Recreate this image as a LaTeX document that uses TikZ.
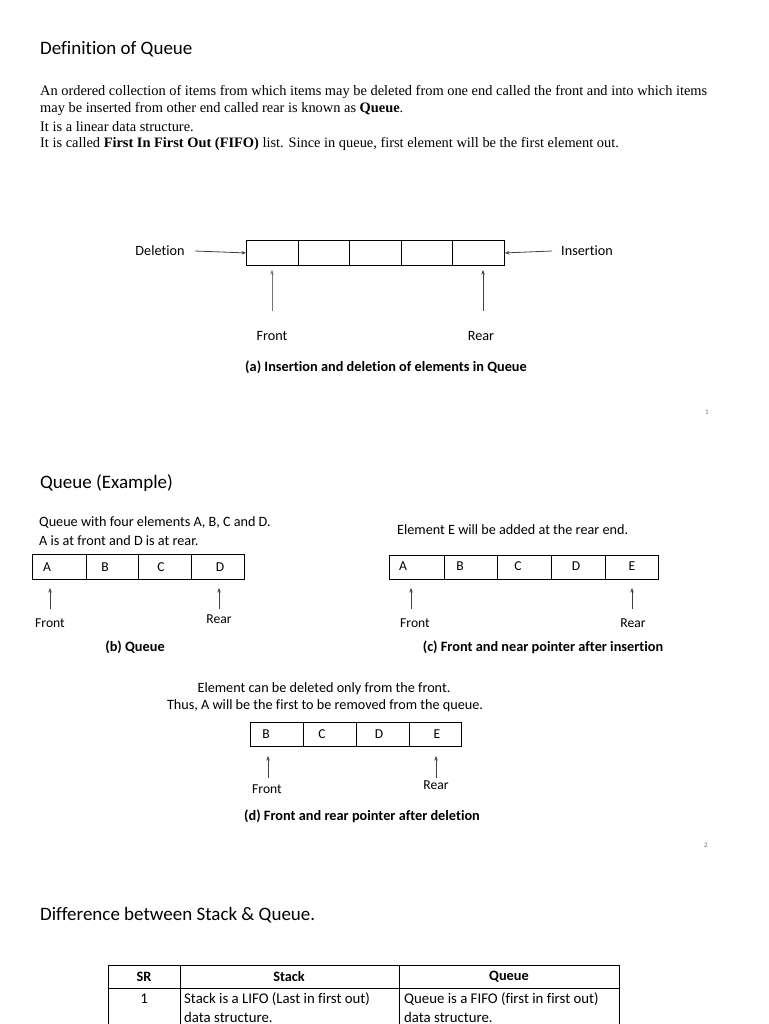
\documentclass[tikz,border=0pt]{standalone}
\usepackage{fontspec}
\setmainfont{Liberation Serif}
\newfontfamily\calfont{Carlito}[Ligatures=NoCommon]
\usetikzlibrary{arrows.meta}
\begin{document}
\begin{tikzpicture}[x=1pt,y=-1pt,
  heading/.style={anchor=west,inner sep=0pt,font=\calfont\fontsize{19}{22}\selectfont},
  body/.style={anchor=west,inner sep=0pt,font=\fontsize{14.4}{17}\selectfont},
  lbl/.style={inner sep=0pt,font=\calfont\fontsize{14.2}{17}\selectfont},
  small/.style={inner sep=0pt,font=\calfont\fontsize{13.6}{16}\selectfont},
  tbl/.style={inner sep=0pt,font=\calfont\fontsize{14.8}{17}\selectfont},
  captxt/.style={inner sep=0pt,font=\calfont\bfseries\fontsize{14.3}{17}\selectfont},
  cellbox/.style={draw,line width=0.9pt,minimum height=25pt,inner sep=0pt},
  ptr/.style={-{Stealth[length=4.5pt,width=3.5pt]},line width=0.8pt,draw=black!75},
  pnum/.style={inner sep=0pt,font=\calfont\fontsize{7}{8}\selectfont,text=black!55},
  tline/.style={line width=0.8pt}]
\useasboundingbox (0,0) rectangle (768,1024);
\clip (0,0) rectangle (768,1024);
\fill[white] (0,0) rectangle (768,1024);

% ---------- Definition ----------
\node[heading] (h1) at (40,49.5) {Definition of Queue};
\node[body] (p1) at (40,92) {An ordered collection of items from which items may be deleted from one end called the front and into which items};
\node[body] (p2) at (40,109) {may be inserted from other end called rear is known as \textbf{Queue}.};
\node[body] (p3) at (40,127) {It is a linear data structure.};
\node[body] (p4) at (40,144) {It is called \textbf{First In First Out (FIFO)} list. Since in queue, first element will be the first element out.};

% ---------- Diagram (a) ----------
\foreach \i/\x in {1/246,2/297.6,3/349.2,4/400.8,5/452.4}{
  \node[cellbox,minimum width=51.6pt,anchor=north west] (a\i) at (\x,240) {};
}
\node[lbl] (del) at (160,251) {Deletion};
\node[lbl] (ins) at (587,251) {Insertion};
\coordinate (dels) at (195,251);
\draw[ptr] (dels) -- (a1.west);
\coordinate (inss) at (552,251);
\draw[ptr] (inss) -- (a5.east);
\coordinate (fta) at (272,311); \coordinate (fha) at (272,270);
\coordinate (rta) at (483,311); \coordinate (rha) at (483,270);
\draw[ptr,draw=black!55] (fta) -- (fha);
\draw[ptr] (rta) -- (rha);
\node[lbl] (fra) at (272,336) {Front};
\node[lbl] (rra) at (481,336) {Rear};
\node[captxt] (capa) at (386,367) {(a) Insertion and deletion of elements in Queue};
\node[pnum] (pn1) at (707,412) {1};

% ---------- Queue example ----------
\node[heading] (h2) at (40,483.5) {Queue (Example)};
\node[lbl,anchor=west] (tb1) at (39,523) {Queue with four elements A, B, C and D.};
\node[lbl,anchor=west] (tb2) at (39,541) {A is at front and D is at rear.};

% (b)
\foreach \i/\x/\w in {1/32/54,2/86/52,3/138/53,4/191/53}{
  \node[cellbox,minimum width=\w pt,anchor=north west] (b\i) at (\x,554) {};
}
\node[small] at (47,567) {A};
\node[small] at (105,567) {B};
\node[small] at (161,567) {C};
\node[small] at (220,567) {D};
\coordinate (ftb) at (50,609); \coordinate (fhb) at (50,588);
\coordinate (rtb) at (219,609); \coordinate (rhb) at (219,588);
\draw[ptr] (ftb) -- (fhb);
\draw[ptr] (rtb) -- (rhb);
\node[small] (frb) at (50,623) {Front};
\node[small] (rrb) at (219,619) {Rear};
\node[captxt] (capb) at (135,647) {(b) Queue};

% (c)
\node[lbl,anchor=west] (tc1) at (397,530) {Element E will be added at the rear end.};
\foreach \i/\x/\w in {1/389/55,2/444/53,3/497/54,4/551/54,5/605/53}{
  \node[cellbox,minimum width=\w pt,minimum height=24pt,anchor=north west] (c\i) at (\x,555) {};
}
\node[small] at (403,566) {A};
\node[small] at (460,566) {B};
\node[small] at (518,566) {C};
\node[small] at (576,566) {D};
\node[small] at (632,566) {E};
\coordinate (ftc) at (411,609); \coordinate (fhc) at (411,588);
\coordinate (rtc) at (632,609); \coordinate (rhc) at (632,588);
\draw[ptr] (ftc) -- (fhc);
\draw[ptr] (rtc) -- (rhc);
\node[small] (frc) at (415,623) {Front};
\node[small] (rrc) at (633,623) {Rear};
\node[captxt] (capc) at (543,647) {(c) Front and near pointer after insertion};

% (d)
\node[lbl] (td1) at (324,689) {Element can be deleted only from the front.};
\node[lbl] (td2) at (325,706) {Thus, A will be the first to be removed from the queue.};
\foreach \i/\x/\w in {1/250/53,2/303/53,3/356/53,4/409/52}{
  \node[cellbox,minimum width=\w pt,minimum height=24pt,anchor=north west] (d\i) at (\x,722) {};
}
\node[small] at (266,734) {B};
\node[small] at (322,734) {C};
\node[small] at (379,734) {D};
\node[small] at (437,734) {E};
\coordinate (ftd) at (268,778); \coordinate (fhd) at (268,756);
\coordinate (rtd) at (436,778); \coordinate (rhd) at (436,756);
\draw[ptr] (ftd) -- (fhd);
\draw[ptr] (rtd) -- (rhd);
\node[small] (frd) at (267,789) {Front};
\node[small] (rrd) at (436,785) {Rear};
\node[captxt] (capd) at (362,816) {(d) Front and rear pointer after deletion};
\node[pnum] (pn2) at (706,845) {2};

% ---------- Difference table ----------
\node[heading] (h3) at (40,915.5) {Difference between Stack \& Queue.};
\draw[tline] (108,1040) -- (108,965) -- (619,965) -- (619,1040);
\draw[tline] (108,988) -- (619,988);
\draw[tline] (180,965) -- (180,1040);
\draw[tline] (399,965) -- (399,1040);
\node[captxt] (hsr) at (144,976.5) {SR};
\node[captxt] (hst) at (289,976.5) {Stack};
\node[captxt] (hq) at (509,976.5) {Queue};
\node[tbl] (r1n) at (144,999) {1};
\node[tbl,anchor=west] (r1s1) at (184,999) {Stack is a LIFO (Last in first out)};
\node[tbl,anchor=west] (r1s2) at (184,1017) {data structure.};
\node[tbl,anchor=west] (r1q1) at (404,999) {Queue is a FIFO (first in first out)};
\node[tbl,anchor=west] (r1q2) at (404,1017) {data structure.};
\end{tikzpicture}
\end{document}
